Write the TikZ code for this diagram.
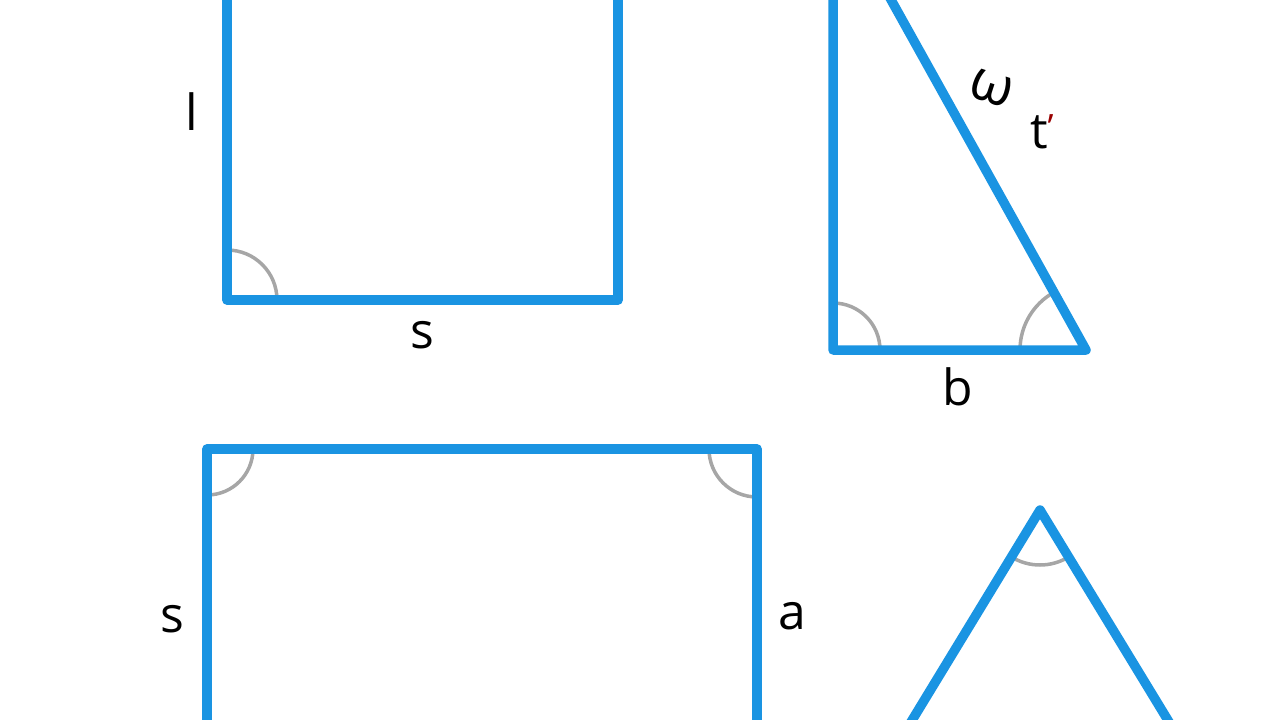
\documentclass[tikz,border=0pt]{standalone}
\usepackage{fontspec}
\setmainfont{Open Sans}
\usetikzlibrary{calc}
\begin{document}
\begin{tikzpicture}[x=1bp,y=-1bp,
  outline/.style={draw=blue1,line width=9.5bp,line join=round},
  angmark/.style={draw=gray1,line width=3.5bp},
  lbl/.style={font=\fontsize{50}{50}\selectfont,inner sep=0pt,text=black}]
\definecolor{blue1}{HTML}{1A94E2}
\definecolor{gray1}{HTML}{A6A6A6}
\useasboundingbox (0,0) rectangle (1280,720);
\clip (0,0) rectangle (1280,720);
% square
\coordinate (sqbl) at (227,300);
\coordinate (sqbr) at (618,300);
\draw[angmark] (277,300) arc[start angle=0,end angle=-90,radius=50];
\draw[outline] (227,-20) -- (sqbl) -- (sqbr) -- (618,-20);
\node[lbl] (l1) at (192,112) {l};
\node[lbl] (s1) at (422,335) {s};
% right triangle
\coordinate (tbl) at (833,350);
\coordinate (tbr) at (1086,350);
\draw[angmark] (880,350) arc[start angle=0,end angle=-90,radius=47];
\draw[angmark] (1020,350) arc[start angle=180,end angle=241,radius=66];
\draw[outline] (833,-20) -- (tbl) -- (tbr) -- (880,-20);
\node[lbl] (b1) at (958,387) {b};
\node[font=\fontsize{56}{56}\selectfont,rotate=-18,inner sep=0pt] (w1) at (992,88) {ω};
\node[font=\fontsize{50}{50}\selectfont,inner sep=0pt] (t1) at (1042,132) {t\textsuperscript{\textcolor{red!60!black}{’}}};
% rectangle
\coordinate (rtl) at (207,449);
\coordinate (rtr) at (757,449);
\draw[angmark] (253,449) arc[start angle=0,end angle=90,radius=46];
\draw[angmark] (757,497) arc[start angle=90,end angle=180,radius=48];
\draw[outline] (207,740) -- (rtl) -- (rtr) -- (757,740);
\node[lbl] (s2) at (172,619) {s};
\node[lbl] (a1) at (792,616) {a};
% isosceles triangle
\coordinate (apex) at (1040,510);
\draw[angmark] ($(apex)+(121:55)$) arc[start angle=121,end angle=59,radius=55];
\draw[outline] (897,745) -- (apex) -- (1183,745);
\end{tikzpicture}
\end{document}
